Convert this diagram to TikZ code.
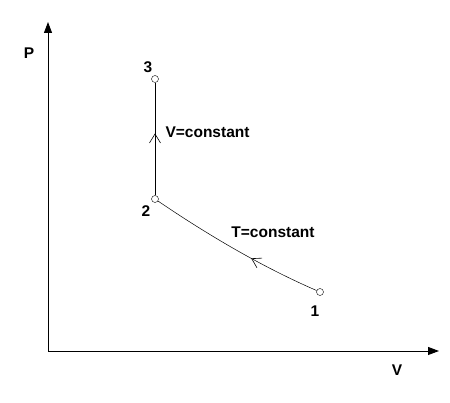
\documentclass[tikz,border=0pt]{standalone}
\usepackage{fontspec}
\setmainfont{Liberation Sans}
\usetikzlibrary{arrows.meta,decorations.markings}

\tikzset{
	estado/.style={circle, draw, minimum size=7pt, inner sep=0pt},
	rotulo/.style={font=\bfseries\fontsize{15.5}{18}\selectfont},
	eixo/.style={-{Triangle[length=11pt,width=8pt]}, line width=0.9pt},
	seta/.style={postaction={decorate}, decoration={markings,
		mark=at position #1 with {\arrow{Straight Barb[length=9pt,width=11pt,line width=0.6pt]}}}}
}

\begin{document}
\begin{tikzpicture}[x=1pt, y=1pt]
\useasboundingbox (0,0) rectangle (450,403);

% Eixos
	\coordinate (O) at (48,52);
	\draw[eixo] (O) -- (48,381);
	\draw[eixo] (O) -- (439,52);
	\node[rotulo] (P) at (29,350) {P};
	\node[rotulo] (V) at (397,33) {V};

% Estados
	\node[estado] (s3) at (155,324) {};
	\node[estado] (s2) at (155,204) {};
	\node[estado] (s1) at (320,111) {};
	\node[rotulo] (n3) at (148,336) {3};
	\node[rotulo] (n2) at (146,192) {2};
	\node[rotulo] (n1) at (315,92) {1};

% Processos
	\draw[seta=0.55, line width=0.6pt] (s2) -- (s3);
	\draw[seta=0.4, line width=0.5pt] (s1) .. controls (260,137) and (205,170) .. (s2);
	\node[rotulo, anchor=west] (isocorica) at (162,271) {V=constant};
	\node[rotulo] (isotermica) at (273,171) {T=constant};
\end{tikzpicture}
\end{document}
